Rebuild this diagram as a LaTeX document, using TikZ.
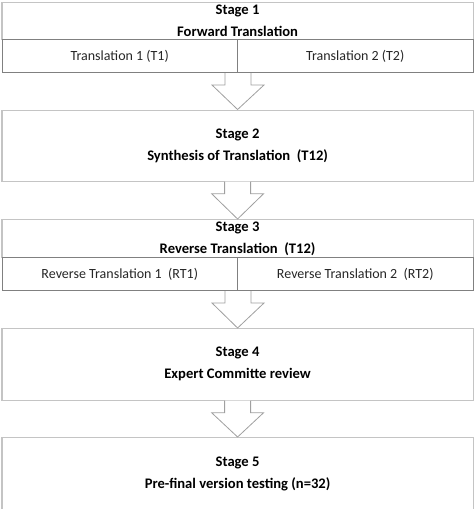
\documentclass[tikz,border=0pt]{standalone}
\usepackage{fontspec}
\setmainfont{Carlito}
\usepackage{tikz}
\usetikzlibrary{calc}

\definecolor{boxgray}{HTML}{C4C4C4}
\definecolor{subgray}{HTML}{808080}
\definecolor{arrowgray}{HTML}{A0A0A0}

\tikzset{
  stagebox/.style={draw=boxgray, line width=1.2pt, rectangle, anchor=north west,
    minimum width=471pt, align=center, inner sep=0pt,
    font=\fontsize{14.6}{22}\selectfont\bfseries, text=black},
  subbox/.style={draw=subgray, line width=1pt, rectangle, anchor=north west,
    minimum width=235.5pt, minimum height=33pt, inner sep=0pt,
    font=\fontsize{14}{16}\selectfont, text=black!85},
  blockarrow/.style={draw=arrowgray, line width=0.8pt, fill=white, line join=miter}
}

% block arrow from the bottom of one stage to the top of the next
\newcommand{\stagearrow}[2]{%
  \draw[blockarrow] ($(#1)+(-13,0)$) -- ++(0,12) -- ++(-13,0) -- (#2)
    -- ($(#1)+(26,12)$) -- ++(-13,0) -- ($(#1)+(13,0)$);
}

\begin{document}
\begin{tikzpicture}[x=1pt, y=-1pt]
    \useasboundingbox (0,0) rectangle (474,509);

    % Stage 1
    \node[stagebox, minimum height=37.5pt] (s1) at (1.5,1.5) {Stage 1\\Forward Translation};
    \node[subbox] (t1) at (1.5,39) {Translation 1 (T1)};
    \node[subbox] (t2) at (237,39) {Translation 2 (T2)};

    % Stage 2
    \node[stagebox, minimum height=71pt] (s2) at (1.5,109.5) {Stage 2\\Synthesis of Translation~~(T12)};

    % Stage 3
    \node[stagebox, minimum height=38pt] (s3) at (1.5,219) {Stage 3\\Reverse Translation~~(T12)};
    \node[subbox] (rt1) at (1.5,257) {Reverse Translation 1~~(RT1)};
    \node[subbox] (rt2) at (237,257) {Reverse Translation 2~~(RT2)};

    % Stage 4
    \node[stagebox, minimum height=71.5pt] (s4) at (1.5,328) {Stage 4\\Expert Committe review};

    % Stage 5
    \node[stagebox, minimum height=72pt] (s5) at (1.5,437) {Stage 5\\Pre-final version testing (n=32)};

    % Arrows between stages
    \stagearrow{t1.south east}{s2.north}
    \stagearrow{s2.south}{s3.north}
    \stagearrow{rt1.south east}{s4.north}
    \stagearrow{s4.south}{s5.north}
\end{tikzpicture}
\end{document}
